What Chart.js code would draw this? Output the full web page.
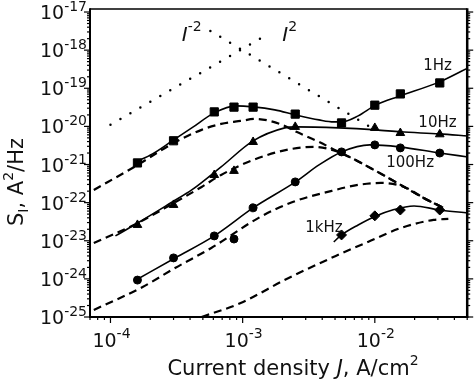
<!DOCTYPE html>
<html><head><meta charset="utf-8">
<script src="https://cdn.jsdelivr.net/npm/chart.js@4/dist/chart.umd.min.js"></script>
<style>html,body{margin:0;padding:0;background:#fff;}</style>
</head><body>
<canvas id="c" width="474" height="379"></canvas>
<script>
// ---------- data (J in A/cm^2, S_I in A^2/Hz) ----------
const markerJ  = [1.6e-4, 3.0e-4, 6.1e-4, 8.6e-4, 1.2e-3, 2.5e-3, 5.6e-3, 1.0e-2, 1.56e-2, 3.1e-2];
const pts1Hz   = [1.1e-21, 4.2e-21, 2.4e-20, 3.2e-20, 3.2e-20, 2.1e-20, 1.23e-20, 3.6e-20, 7.1e-20, 1.38e-19];
const pts10Hz  = [2.6e-23, 8.7e-23, 5.3e-22, 6.8e-22, 3.9e-21, 9.7e-21, null, 9.1e-21, 6.7e-21, 6.2e-21];
const pts100Hz = [9.3e-25, 3.55e-24, 1.34e-23, 1.11e-23, 7.3e-23, 3.5e-22, 2.14e-21, 3.27e-21, 2.73e-21, 2.0e-21];
const pts1kHz  = [null, null, null, null, null, null, 1.42e-23, 4.5e-23, 6.4e-23, 6.4e-23];

const fit1HzJ = [1.56e-4, 2.08e-4, 2.93e-4, 4.12e-4, 6.1e-4, 8.87e-4, 1.2e-3, 1.75e-3, 2.51e-3, 3.78e-3, 4.89e-3, 5.6e-3, 7.48e-3, 1.02e-2, 1.56e-2, 3.08e-2, 5.06e-2];
const fit1HzS = [1.17e-21, 1.9e-21, 4.16e-21, 9.1e-21, 2.26e-20, 3.45e-20, 3.25e-20, 2.71e-20, 2.0e-20, 1.48e-20, 1.31e-20, 1.31e-20, 1.89e-20, 3.66e-20, 6.3e-20, 1.47e-19, 3.43e-19];
const fit10HzJ = [1.09e-4, 1.56e-4, 2.93e-4, 4.12e-4, 6.87e-4, 1.2e-3, 2.08e-3, 2.51e-3, 5.32e-3, 1.02e-2, 1.56e-2, 3.08e-2, 5.06e-2];
const fit10HzS = [1.34e-23, 2.76e-23, 1.04e-22, 2.15e-22, 8.65e-22, 4.16e-21, 9.14e-21, 9.7e-21, 9.14e-21, 8.1e-21, 7.2e-21, 6.35e-21, 5.6e-21];
const fit100HzJ = [1.56e-4, 3.08e-4, 6.1e-4, 1.2e-3, 2.51e-3, 3.78e-3, 5.6e-3, 9.18e-3, 1.53e-2, 3.08e-2, 5.06e-2];
const fit100HzS = [9.35e-25, 3.54e-24, 1.34e-23, 7.26e-23, 3.49e-22, 9.77e-22, 2.14e-21, 3.27e-21, 2.9e-21, 2.01e-21, 1.58e-21];
const fit1kHzJ = [4.89e-3, 5.6e-3, 7.48e-3, 1.02e-2, 1.36e-2, 1.98e-2, 3.08e-2, 5.06e-2];
const fit1kHzS = [9.3e-24, 1.42e-23, 2.6e-23, 4.48e-23, 6.43e-23, 8.19e-23, 6.43e-23, 5.37e-23];

const dash1HzJ = [7.48e-5, 1.56e-4, 2.93e-4, 4.89e-4, 6.87e-4, 9.66e-4, 1.25e-3, 1.91e-3, 2.55e-3, 3.78e-3, 5.32e-3, 6.64e-3, 1.05e-2, 1.67e-2, 2.34e-2, 3.30e-2];
const dash1HzS = [2.15e-22, 9.2e-22, 3.48e-21, 8.1e-21, 1.16e-20, 1.39e-20, 1.57e-20, 1.16e-20, 7.2e-21, 3.92e-21, 2.14e-21, 1.49e-21, 6.4e-22, 2.58e-22, 1.33e-22, 7.3e-23];
const dash10HzJ = [7.48e-5, 1.56e-4, 2.93e-4, 4.89e-4, 6.87e-4, 1.15e-3, 2.15e-3, 3.48e-3, 5.32e-3, 6.64e-3, 1.05e-2, 1.67e-2, 2.34e-2, 3.30e-2];
const dash10HzS = [8.75e-24, 2.76e-23, 9.25e-23, 2.58e-22, 5.33e-22, 1.24e-21, 2.42e-21, 2.9e-21, 2.14e-21, 1.49e-21, 6.4e-22, 2.58e-22, 1.33e-22, 7.3e-23];
const dash100HzJ = [7.48e-5, 1.75e-4, 3.08e-4, 5.79e-4, 1.36e-3, 2.39e-3, 4.72e-3, 7.48e-3, 1.11e-2, 1.67e-2, 2.34e-2, 3.30e-2];
const dash100HzS = [1.53e-25, 6.12e-25, 1.93e-24, 6.47e-24, 4.22e-23, 1.04e-22, 2.03e-22, 2.92e-22, 3.29e-22, 2.58e-22, 1.33e-22, 7.3e-23];
const dash1kHzJ = [4.89e-4, 9.66e-4, 2.15e-3, 5.06e-3, 8.87e-3, 1.58e-2, 2.78e-2, 3.6e-2];
const dash1kHzS = [1.0e-25, 2.33e-25, 9.93e-25, 3.99e-24, 9.3e-24, 2.17e-23, 3.52e-23, 3.73e-23];

const dotUpJ = [1.0e-4, 1.6e-3];
const dotUpS = [1.1e-20, 2.8e-18];
const dotDownJ = [5.7e-4, 9.2e-3];
const dotDownS = [3.2e-18, 9.7e-21];

const xTickExps = [-4, -3, -2];
const yTickExps = [-25, -24, -23, -22, -21, -20, -19, -18, -17];
const curveLabels = ['1Hz', '10Hz', '100Hz', '1kHz'];
const curveLabelJ = [2.98e-2, 2.98e-2, 1.85e-2, 4.12e-3];
const curveLabelS = [4.36e-19, 1.39e-20, 1.24e-21, 2.44e-23];

// ---------- helpers ----------
const zip = (xs, ys) => xs.map((x, i) => ({x, y: ys[i]})).filter(p => p.y != null);
const FONT = '"DejaVu Sans", sans-serif';

function lineDs(xs, ys, kind) {
  const base = {data: zip(xs, ys), showLine: true, pointRadius: 0, borderColor: '#000', fill: false, order: 2};
  if (kind === 'solid') return Object.assign(base, {borderWidth: 1.6, cubicInterpolationMode: 'monotone'});
  if (kind === 'dash') return Object.assign(base, {borderWidth: 2.2, borderDash: [8, 5], cubicInterpolationMode: 'monotone'});
  return Object.assign(base, {borderWidth: 2.5, borderDash: [0, 11.5], borderCapStyle: 'round', tension: 0});
}
function markerDs(ys, style, r) {
  return {data: zip(markerJ, ys), showLine: false, pointStyle: style, pointRadius: r,
    pointBackgroundColor: '#000', pointBorderColor: '#000', pointBorderWidth: 1, order: 1};
}

function drawRich(ctx, parts, x, y, align) {
  let w = 0;
  for (const p of parts) { ctx.font = (p.it ? 'italic ' : '') + p.size + 'px ' + FONT; w += ctx.measureText(p.t).width; }
  let cx = align === 'right' ? x - w : align === 'center' ? x - w / 2 : x;
  for (const p of parts) {
    ctx.font = (p.it ? 'italic ' : '') + p.size + 'px ' + FONT;
    ctx.fillText(p.t, cx, y + (p.dy || 0));
    cx += ctx.measureText(p.t).width;
  }
}

const framePlugin = {
  id: 'frame',
  afterDraw(chart) {
    const {ctx, chartArea: a, scales: {x, y}} = chart;
    ctx.save();
    ctx.strokeStyle = '#000'; ctx.fillStyle = '#111';
    ctx.textBaseline = 'alphabetic'; ctx.textAlign = 'left';
    const seg = (x1, y1, x2, y2, w) => { ctx.lineWidth = w; ctx.beginPath(); ctx.moveTo(x1, y1); ctx.lineTo(x2, y2); ctx.stroke(); };
    // frame
    seg(a.left, a.top, a.right, a.top, 1.5);
    seg(a.left, a.top - 0.75, a.left, a.bottom + 1, 2);
    seg(a.left - 1, a.bottom, a.right + 1, a.bottom, 2);
    seg(a.right, a.top - 0.75, a.right, a.bottom + 1, 2.5);
    // y ticks
    for (let e = -25; e <= -17; e++) {
      for (let m = 1; m <= 9; m++) {
        const v = m * Math.pow(10, e);
        if (v > y.max * 1.0001) break;
        const p = y.getPixelForValue(v);
        const len = m === 1 ? 6 : 3;
        seg(a.left - len, p, a.left, p, 1.2);
        seg(a.right, p, a.right + len, p, 1.2);
      }
    }
    // x ticks
    for (let e = -5; e <= -2; e++) {
      for (let m = 1; m <= 9; m++) {
        const v = m * Math.pow(10, e);
        if (v < x.min || v > x.max) continue;
        const p = x.getPixelForValue(v);
        const len = m === 1 ? 6 : 3;
        seg(p, a.bottom, p, a.bottom + len, 1.2);
      }
    }
    // y tick labels
    for (const e of yTickExps) {
      const p = y.getPixelForValue(Math.pow(10, e));
      drawRich(ctx, [{t: '10', size: 19}, {t: '-' + Math.abs(e), size: 14, dy: -8}], a.left - 3, p + 7, 'right');
    }
    // x tick labels
    for (const e of xTickExps) {
      const p = x.getPixelForValue(Math.pow(10, e));
      drawRich(ctx, [{t: '10', size: 19}, {t: '-' + Math.abs(e), size: 14, dy: -9}], p + 1, 347, 'center');
    }
    // axis titles
    drawRich(ctx, [{t: 'Current density ', size: 21}, {t: 'J', size: 21, it: true}, {t: ', A/cm', size: 21}, {t: '2', size: 14, dy: -10}], 293, 375, 'center');
    ctx.save();
    ctx.translate(23, 182); ctx.rotate(-Math.PI / 2);
    drawRich(ctx, [{t: 'S', size: 21}, {t: 'I', size: 14, dy: 5}, {t: ', A', size: 21}, {t: '2', size: 14, dy: -10}, {t: '/Hz', size: 21}], 0, 0, 'center');
    ctx.restore();
    // curve labels
    for (let i = 0; i < curveLabels.length; i++) {
      const px = x.getPixelForValue(curveLabelJ[i]), py = y.getPixelForValue(curveLabelS[i]);
      drawRich(ctx, [{t: curveLabels[i], size: 15}], px, py + 6, 'center');
    }
    // power-law labels
    const ly = y.getPixelForValue(2.84e-18);
    drawRich(ctx, [{t: 'I', size: 20, it: true}, {t: '-2', size: 14, dy: -10}], x.getPixelForValue(4.12e-4), ly + 8, 'center');
    drawRich(ctx, [{t: 'I', size: 20, it: true}, {t: '2', size: 14, dy: -10}], x.getPixelForValue(2.27e-3), ly + 8, 'center');
    ctx.restore();
  }
};

new Chart(document.getElementById('c'), {
  type: 'scatter',
  data: {
    datasets: [
      markerDs(pts1Hz, 'rect', 5.8),
      markerDs(pts10Hz, 'triangle', 5),
      markerDs(pts100Hz, 'circle', 4),
      markerDs(pts1kHz, 'rectRot', 5),
      lineDs(fit1HzJ, fit1HzS, 'solid'),
      lineDs(fit10HzJ, fit10HzS, 'solid'),
      lineDs(fit100HzJ, fit100HzS, 'solid'),
      lineDs(fit1kHzJ, fit1kHzS, 'solid'),
      lineDs(dash1HzJ, dash1HzS, 'dash'),
      lineDs(dash10HzJ, dash10HzS, 'dash'),
      lineDs(dash100HzJ, dash100HzS, 'dash'),
      lineDs(dash1kHzJ, dash1kHzS, 'dash'),
      lineDs(dotUpJ, dotUpS, 'dot'),
      lineDs(dotDownJ, dotDownS, 'dot')
    ]
  },
  options: {
    responsive: false, animation: false, devicePixelRatio: 1,
    layout: {padding: {top: 9, right: 3, left: 0, bottom: 0}},
    plugins: {legend: {display: false}, tooltip: {enabled: false}},
    scales: {
      x: {type: 'logarithmic', min: 7.5e-5, max: 5e-2, grid: {display: false}, border: {display: false},
          ticks: {display: false}, afterFit(s) { s.height = 62; }},
      y: {type: 'logarithmic', min: 1e-25, max: 1.2e-17, grid: {display: false}, border: {display: false},
          ticks: {display: false}, afterFit(s) { s.width = 90; }}
    }
  },
  plugins: [framePlugin]
});
</script>
</body></html>
